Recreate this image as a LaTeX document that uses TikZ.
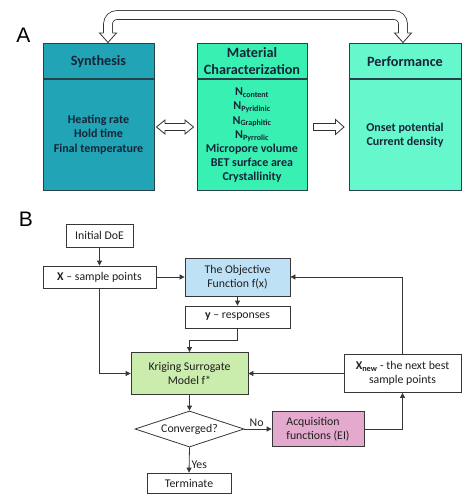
\documentclass[tikz,border=0pt]{standalone}
\usepackage{fontspec}
\setmainfont{Carlito}
\newfontfamily\labelfont{Liberation Sans}
\usetikzlibrary{shapes.geometric,arrows.meta,calc}
\definecolor{synfill}{RGB}{33,164,181}
\definecolor{matfill}{RGB}{55,240,178}
\definecolor{perffill}{RGB}{102,247,204}
\definecolor{aborder}{RGB}{38,66,72}
\definecolor{atext}{RGB}{22,36,56}
\definecolor{objfill}{RGB}{191,225,246}
\definecolor{krigfill}{RGB}{202,236,172}
\definecolor{acqfill}{RGB}{228,170,206}
\definecolor{bline}{RGB}{55,55,55}
\definecolor{btext}{RGB}{30,30,30}
\definecolor{harrow}{RGB}{50,50,50}
\begin{document}
\begin{tikzpicture}[x=1pt,y=-1pt,
  abox/.style={draw=aborder,line width=1.1pt,anchor=north west,minimum height=147pt,inner sep=0pt},
  ahead/.style={text=atext,font=\bfseries\fontsize{14.2}{17}\selectfont,align=center,inner sep=0pt},
  abody/.style={text=atext,font=\bfseries\fontsize{12}{14.2}\selectfont,align=center,inner sep=0pt},
  hollow/.style={draw=harrow,fill=white,line width=0.8pt,line join=miter},
  bbox/.style={draw=bline,line width=0.8pt,text=btext,font=\fontsize{11.8}{14.5}\selectfont,align=center,inner sep=0pt},
  blabel/.style={text=btext,font=\fontsize{11.8}{13}\selectfont,inner sep=2pt},
  barrow/.style={draw=bline,line width=0.8pt,-{Triangle[length=5pt,width=5pt]}},
  panel/.style={font=\labelfont\fontsize{21}{22}\selectfont,inner sep=0pt}]
\useasboundingbox (0,0) rectangle (474,500);
% ---------- Panel A ----------
\node[panel] (lblA) at (23.5,35) {A};
\node[abox,fill=synfill,minimum width=111pt] (syn) at (43,43) {};
\node[abox,fill=matfill,minimum width=110pt] (mat) at (197,43) {};
\node[abox,fill=perffill,minimum width=112pt] (perf) at (349,43) {};
\draw[aborder,line width=1.1pt] (syn.west |- 0,79) -- (syn.east |- 0,79);
\draw[aborder,line width=1.1pt] (mat.west |- 0,79) -- (mat.east |- 0,79);
\draw[aborder,line width=1.1pt] (perf.west |- 0,79) -- (perf.east |- 0,79);
\node[ahead] (synh) at (98.5,62) {Synthesis};
\node[ahead] (math) at (252,61.5) {Material\\Characterization};
\node[ahead] (perfh) at (405,62) {Performance};
\node[abody] (synb) at (98.5,134.7) {Heating rate\\Hold time\\Final temperature};
\node[abody] (matb) at (252,135.3) {N\textsubscript{content}\\N\textsubscript{Pyridinic}\\N\textsubscript{Graphitic}\\N\textsubscript{Pyrrolic}\\Micropore volume\\BET surface area\\Crystallinity};
\node[abody] (perfb) at (405,135) {Onset potential\\Current density};
% double hollow arrow between Synthesis and Material
\draw[hollow] (156.5,127) -- (165,120) -- (165,123.5) -- (185,123.5) -- (185,120) -- (193.5,127) -- (185,134) -- (185,130.5) -- (165,130.5) -- (165,134) -- cycle;
% hollow arrow Material -> Performance
\draw[hollow] (313.5,123.5) -- (335.5,123.5) -- (335.5,119.5) -- (344,127) -- (335.5,134.5) -- (335.5,130.5) -- (313.5,130.5) -- cycle;
% top hollow double arrow
\draw[harrow,line width=9.6pt,rounded corners=9pt] (108,33) -- (108,15) -- (403,15) -- (403,33);
\draw[white,line width=8pt,rounded corners=9pt] (108,33.5) -- (108,15) -- (403,15) -- (403,33.5);
\filldraw[hollow] (112.4,33) -- (116.5,33) -- (108,42.5) -- (99.5,33) -- (103.6,33);
\filldraw[hollow] (407.4,33) -- (411.5,33) -- (403,42.5) -- (394.5,33) -- (398.6,33);
% ---------- Panel B ----------
\node[panel] (lblB) at (26,219) {B};
\node[bbox,minimum width=67pt,minimum height=23pt] (init) at (99.5,235.5) {Initial DoE};
\node[bbox,minimum width=113pt,minimum height=22pt] (xs) at (99.5,277) {\textbf{X} -- sample points};
\node[bbox,fill=objfill,minimum width=105pt,minimum height=38pt] (obj) at (237.5,277) {The Objective\\Function f(x)};
\node[bbox,minimum width=105pt,minimum height=22pt] (yr) at (237.5,317) {\textbf{y} -- responses};
\node[bbox,fill=krigfill,minimum width=117pt,minimum height=42pt] (krig) at (189.5,373.5) {Kriging Surrogate\\Model f*};
\node[bbox,minimum width=117pt,minimum height=38pt] (xnew) at (402.5,373.5) {\textbf{X\textsubscript{new}} - the next best\\sample points};
\node[bbox,diamond,shape aspect=3,minimum width=109pt,minimum height=36pt] (conv) at (189.5,429) {Converged?};
\node[bbox,fill=acqfill,minimum width=92pt,minimum height=35pt] (acq) at (318,429) {};
\node[text=btext,font=\fontsize{11.8}{14.5}\selectfont,align=left,inner sep=0pt] (acqt) at (acq.center) {Acquisition\\functions (EI)};
\node[bbox,minimum width=84pt,minimum height=20pt] (term) at (189,483) {Terminate};
\draw[barrow] (init) -- (xs);
\draw[barrow] (xs.east) -- (obj.west);
\draw[barrow] (xs.south) |- (krig.west);
\draw[barrow] (obj) -- (yr);
\draw[barrow] (yr.south) -- ++(0,12) -| (krig.north);
\draw[barrow] (xnew.west) -- (krig.east);
\draw[barrow] (xnew.north) |- (obj.east);
\draw[barrow] (krig.south) -- (conv.north);
\draw[barrow] (conv.east) -- node[above,blabel,pos=0.45] (no) {No} (acq.west);
\draw[barrow] (acq.east) -| (xnew.south);
\draw[barrow] (conv.south) -- node[right,blabel,pos=0.7] (yes) {Yes} (term.north);
\end{tikzpicture}
\end{document}
